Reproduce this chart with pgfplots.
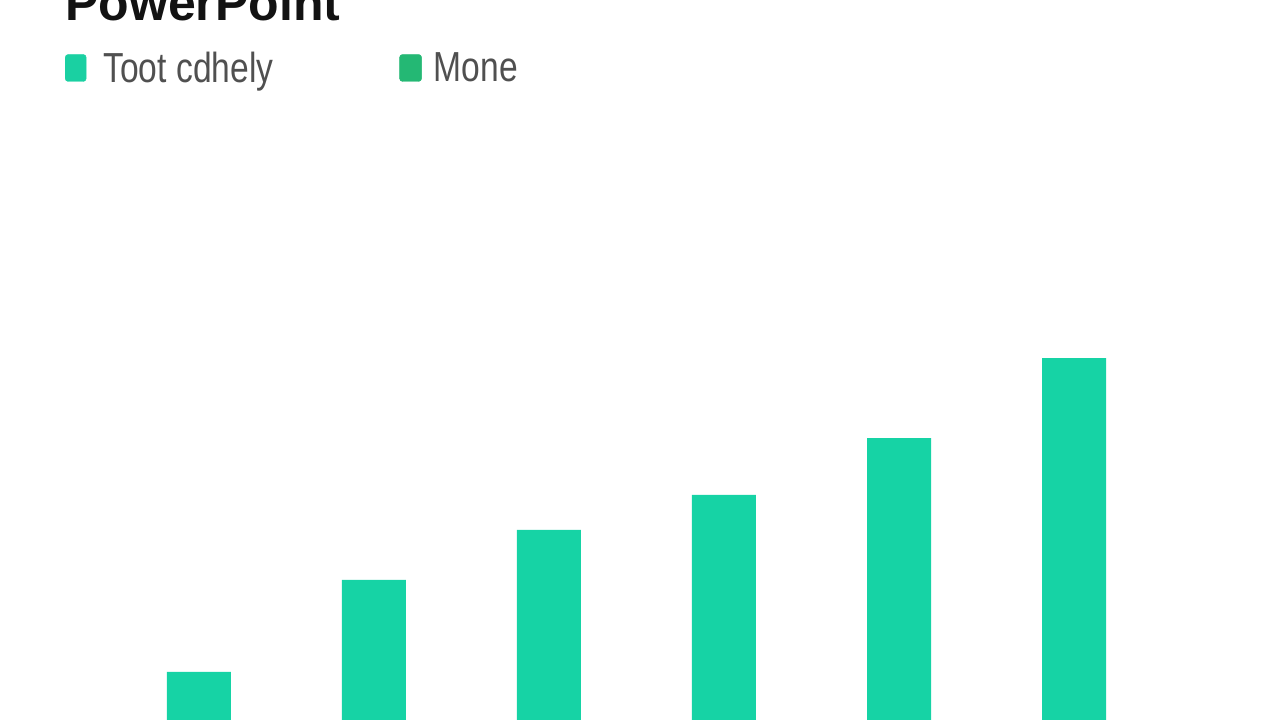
\documentclass[border=0pt]{standalone}
\usepackage{pgfplots}
\pgfplotsset{compat=1.18}
\usepackage{fontspec}
\setmainfont{Liberation Sans}
\newfontfamily\legfont[FakeStretch=0.8]{Liberation Sans}
\definecolor{barc}{RGB}{22,211,165}
\definecolor{legA}{RGB}{26,208,162}
\definecolor{legB}{RGB}{36,184,116}
\definecolor{txt}{RGB}{80,80,80}
\pgfplotstableread{
x y
1 1.33
2 3.87
3 5.25
4 6.22
5 7.79
6 10.0
}\bars
\begin{document}
\begin{tikzpicture}
\begin{axis}[
  scale only axis, width=1280pt, height=720pt,
  xmin=-0.137, xmax=7.177, ymin=0, ymax=19.89,
  hide axis,
  clip=false,
  legend style={at={(rel axis cs:0.0508,0.9056)}, anchor=west, draw=none, fill=none,
    inner sep=0pt, outer sep=0pt,
    legend columns=2,
    nodes={inner sep=0pt, text=txt, font=\legfont\fontsize{42pt}{46pt}\selectfont},
    /tikz/every odd column/.append style={column sep=17pt},
    /tikz/every even column/.append style={column sep=126pt}},
]
\addplot[ybar, bar width=64pt, fill=barc, draw=none, forget plot] table[x=x,y=y] {\bars};
\addlegendimage{legend image code/.code={\fill[legA, rounded corners=3pt] (0pt,-13.5pt) rectangle (21pt,13.5pt);}}
\addlegendentry{Toot cdhely}
\addlegendimage{legend image code/.code={\fill[legB, rounded corners=3pt] (0pt,-13.5pt) rectangle (22pt,13.5pt);}}
\addlegendentry{\hspace*{-5pt}Mone}
\node[anchor=base west, inner sep=0pt, text=black!93, font=\bfseries\fontsize{50pt}{56pt}\selectfont] at (rel axis cs:0.0508,0.9722) {PowerPoint};
\end{axis}
\pgfresetboundingbox
\path[use as bounding box] (0,0) rectangle (1280pt,720pt);
\end{tikzpicture}
\end{document}
